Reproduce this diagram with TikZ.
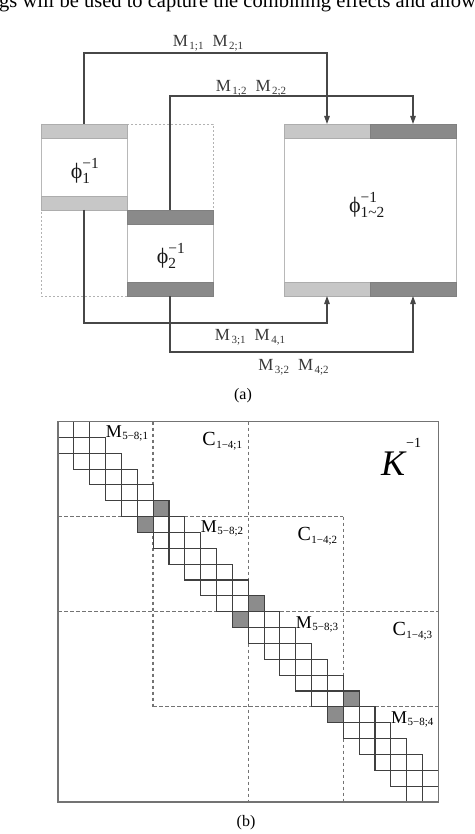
\documentclass[tikz,border=0pt]{standalone}
\usepackage{fontspec}
\usepackage{amsmath}
\setmainfont{Liberation Serif}
\usetikzlibrary{arrows.meta}
\newcommand\lab[2]{#1\kern1.5pt\raisebox{-3pt}{\fontsize{11}{11}\selectfont #2}}
\newcommand\labb[3]{#1\kern0.5pt\raisebox{-#3}{\fontsize{11}{11}\selectfont #2}}
\newcommand\phil[1]{$\text{ϕ}^{\text{−1}}_{\text{#1}}$}
\begin{document}
\begin{tikzpicture}[x=1pt,y=-1pt,
  conn/.style={draw=black!72, line width=1.2pt},
  arr/.style={-{Triangle[length=8pt,width=5.5pt]}},
  body/.style={draw=black!28, fill=white, line width=0.7pt, inner sep=0pt, outer sep=0pt},
  lightbar/.style={draw=black!32, fill=black!22, line width=0.5pt, minimum height=14pt, inner sep=0pt, outer sep=0pt},
  darkbar/.style={draw=black!50, fill=black!46, line width=0.5pt, minimum height=14pt, inner sep=0pt, outer sep=0pt},
  lbl/.style={text=black!78, font=\fontsize{17}{17}\selectfont, inner sep=0pt},
  phit/.style={font=\fontsize{22}{22}\selectfont, inner sep=0pt, text=black!90},
  cell/.style={draw=black!75, line width=1.1pt},
  blk/.style={draw=black!55, line width=1.25pt, dash pattern=on 3.5pt off 2.5pt},
  mlab/.style={font=\fontsize{18}{18}\selectfont, inner sep=0pt, anchor=base west, text=black},
  clab/.style={font=\fontsize{20}{20}\selectfont, inner sep=0pt, anchor=base west, text=black},
  captxt/.style={font=\fontsize{16}{16}\selectfont, inner sep=0pt, anchor=base}
]
\useasboundingbox (0,0) rectangle (474,834);
\fill[white] (0,0) rectangle (474,834);

% cut-off line of running text (cropped as in the reference)
\node[anchor=base west, inner sep=0pt, font=\fontsize{20.5}{20.5}\selectfont] (runtext) at (-1,7.5) {gs will be used to capture the combining effects and allow};

% ---------- (a) ----------
\draw[draw=black!30, line width=0.8pt, dash pattern=on 2pt off 2pt] (41,124) rectangle (213,296);

\node[body, minimum width=86pt, minimum height=86pt] (p1) at (84,167) {};
\node[lightbar, minimum width=86pt] (p1top) at (84,131) {};
\node[lightbar, minimum width=86pt] (p1bot) at (84,203) {};

\node[body, minimum width=86pt, minimum height=86pt] (p2) at (170,253) {};
\node[darkbar, minimum width=86pt] (p2top) at (170,217) {};
\node[darkbar, minimum width=86pt] (p2bot) at (170,289) {};

\node[body, minimum width=172pt, minimum height=172pt] (big) at (370,210) {};
\node[lightbar, minimum width=86pt] (bigTL) at (327,131) {};
\node[darkbar, minimum width=86pt] (bigTR) at (413,131) {};
\node[lightbar, minimum width=86pt] (bigBL) at (327,289) {};
\node[darkbar, minimum width=86pt] (bigBR) at (413,289) {};

\node[phit] (t1) at (85,171) {\phil{1}};
\node[phit] (t2) at (171,256) {\phil{2}};
\node[phit] (t12) at (367,205) {\phil{1\textasciitilde 2}};

\coordinate (y1) at (0,53);
\coordinate (y2) at (0,96);
\coordinate (y3) at (0,323);
\coordinate (y4) at (0,352);
\draw[conn,arr] (p1top.north) |- (bigTL.north |- y1) -- (bigTL.north);
\draw[conn,arr] (p2top.north) |- (bigTR.north |- y2) -- (bigTR.north);
\draw[conn,arr] (p1bot.south) |- (bigBL.south |- y3) -- (bigBL.south);
\draw[conn,arr] (p2bot.south) |- (bigBR.south |- y4) -- (bigBR.south);

\node[lbl, anchor=base] (l1) at (208,47) {\lab{M}{1;1}\hspace{9pt}\lab{M}{2;1}};
\node[lbl, anchor=base] (l2) at (251,92) {\lab{M}{1;2}\hspace{9pt}\lab{M}{2;2}};
\node[lbl, anchor=base] (l3) at (250,340.5) {\lab{M}{3;1}\hspace{9pt}\lab{M}{4,1}};
\node[lbl, anchor=base] (l4) at (293.5,370) {\lab{M}{3;2}\hspace{9pt}\lab{M}{4;2}};

\node[captxt] (capa) at (243,399) {(a)};

% ---------- (b) ----------
\def\s{15.85}
\def\X{58}
\def\Y{421.5}
\pgfmathsetmacro\Ba{\X+6*\s}\pgfmathsetmacro\Bb{\X+12*\s}\pgfmathsetmacro\Bc{\X+18*\s}\pgfmathsetmacro\Bd{\X+24*\s}
\pgfmathsetmacro\Ya{\Y+6*\s}\pgfmathsetmacro\Yb{\Y+12*\s}\pgfmathsetmacro\Yc{\Y+18*\s}\pgfmathsetmacro\Yd{\Y+24*\s}

\draw[blk] (\Ba,\Y) -- (\Ba,\Yc);
\draw[blk] (\Bb,\Y) -- (\Bb,\Yd);
\draw[blk] (\Bc,\Ya) -- (\Bc,\Yd);
\draw[blk] (\X,\Ya) -- (\Bc,\Ya);
\draw[blk] (\X,\Yb) -- (\Bd,\Yb);
\draw[blk] (\Ba,\Yc) -- (\Bd,\Yc);

\foreach \i in {1,...,24}{
  \foreach \d in {-1,0,1}{
    \pgfmathtruncatemacro{\j}{\i+\d}
    \pgfmathtruncatemacro{\ok}{(\j>0)&&(\j<25)}
    \ifnum\ok=1
      \pgfmathtruncatemacro{\dk}{floor((\i-1)/6)!=floor((\j-1)/6)}
      \ifnum\dk=1 \def\fc{black!45}\else\def\fc{white}\fi
      \draw[cell,fill=\fc] ({\X+(\j-1)*\s},{\Y+(\i-1)*\s}) rectangle ++(\s,\s);
    \fi
  }
}

\draw[draw=black!55, line width=1.2pt] (\X,\Y) rectangle (\Bd,\Yd);

\foreach \k/\n in {1/ma,2/mb,3/mc,4/md}{
  \node[mlab] (\n) at ({\X+(\k-1)*6*\s+3*\s},{\Y+(\k-1)*6*\s+\s+0.5}) {\labb{M}{5−8;\k}{2pt}};
}
\foreach \k/\n in {1/ca,2/cb,3/cc}{
  \node[clab] (\n) at ({\X+\k*6*\s+3.1*\s},{\Y+(\k-1)*6*\s+1.5*\s}) {\labb{C}{1−4;\k}{3pt}};
}

\node[anchor=base west, inner sep=0pt, font=\fontsize{36}{36}\selectfont\itshape] (K) at (381,475) {K};
\node[anchor=base west, inner sep=0pt, font=\fontsize{14}{14}\selectfont] (Kexp) at (406,447) {−1};

\node[captxt] (capb) at (246,826) {(b)};
\end{tikzpicture}
\end{document}
